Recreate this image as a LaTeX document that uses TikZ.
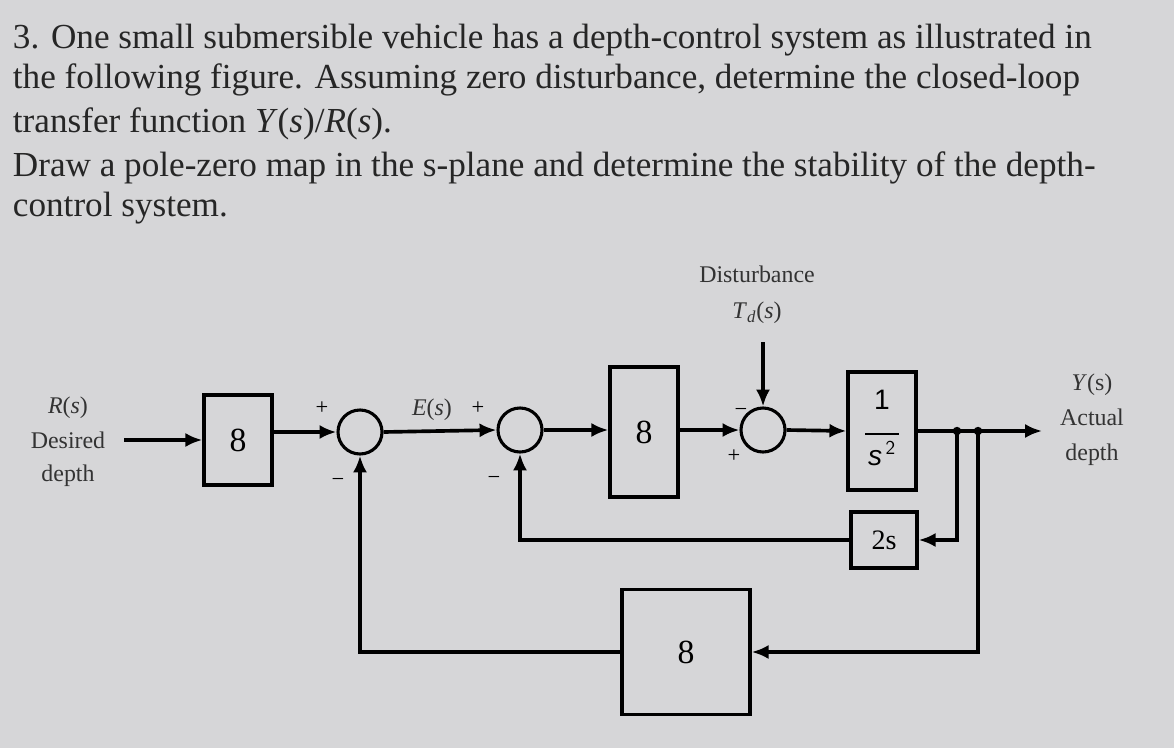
\documentclass[tikz,border=0pt]{standalone}
\usepackage{fontspec}
\setmainfont{Liberation Serif}
\newfontfamily\sff{Liberation Sans}
\usetikzlibrary{arrows.meta}
\begin{document}
\begin{tikzpicture}[x=0.025cm,y=-0.025cm,
  ln/.style={line width=2.6pt},
  arr/.style={ln,-{Latex[length=12pt,width=10pt]}},
  blk/.style={draw,line width=2.4pt,inner sep=0pt},
  sum/.style={draw,circle,line width=2.2pt,minimum size=44*0.025cm,inner sep=0pt},
  lbl/.style={font=\fontsize{17}{19}\selectfont,text=black!80},
  q/.style={anchor=west,font=\fontsize{25}{28}\selectfont,text=black!85},
  sg/.style={font=\fontsize{16}{16}\selectfont}]
\definecolor{bgc}{RGB}{214,214,216}
\fill[bgc] (0,0) rectangle (1174,748);
\useasboundingbox (0,0) rectangle (1174,748);
% question text
\node[q] (q1) at (8,40) {3. One small submersible vehicle has a depth-control system as illustrated in};
\node[q] (q2) at (8,80) {the following figure. Assuming zero disturbance, determine the closed-loop};
\node[q] (q3) at (8,124) {transfer function \textit{Y}(\textit{s})/\textit{R}(\textit{s}).};
\node[q] (q4) at (8,168) {Draw a pole-zero map in the s-plane and determine the stability of the depth-};
\node[q] (q5) at (8,208) {control system.};
% blocks
\node[blk,minimum width=68*0.025cm,minimum height=90*0.025cm,font=\fontsize{24}{24}\selectfont] (b1) at (238,440) {8};
\node[sum] (s1) at (360,432) {};
\node[sum] (s2) at (520,430) {};
\node[blk,minimum width=68*0.025cm,minimum height=130*0.025cm,font=\fontsize{24}{24}\selectfont] (b2) at (644,432) {8};
\node[sum] (s3) at (763,430) {};
\node[blk,minimum width=68*0.025cm,minimum height=118*0.025cm,font=\sff\fontsize{20}{22}\selectfont] (g) at (882,431) {\begin{tabular}{@{}c@{}}1\\[-4pt]\rule{24pt}{1.2pt}\\[-2pt]\textit{s}$^{\,\mathsf{2}}$\end{tabular}};
\node[blk,minimum width=66*0.025cm,minimum height=56*0.025cm,font=\fontsize{20}{20}\selectfont] (h) at (884,540) {2s};
\node[blk,minimum width=128*0.025cm,minimum height=125*0.025cm,font=\fontsize{24}{24}\selectfont] (k) at (686,652) {8};
\coordinate (d1) at (957,431);
\coordinate (d2) at (978,431);
\coordinate (out) at (1042,431);
\coordinate (din) at (763,342);
\coordinate (rin) at (124,440);
% labels
\node[lbl] (rs) at (68,408) {\textit{R}(\textit{s})};
\node[lbl] (rd) at (68,440) {Desired};
\node[lbl] (rdp) at (68,476) {depth};
\node[lbl] (ys) at (1092,385) {\textit{Y}(s)};
\node[lbl] (ya) at (1092,417) {Actual};
\node[lbl] (yd) at (1092,455) {depth};
\node[lbl] (dist) at (757,274) {Disturbance};
\node[lbl] (td) at (757,313) {\textit{T}\textsubscript{\textit{d}}(\textit{s})};
\node[lbl] (es) at (432,410) {\textit{E}(\textit{s})};
\node[sg] (p1) at (322,408) {+};
\node[sg] (m1) at (338,482) {\textminus};
\node[sg] (p2) at (478,408) {+};
\node[sg] (m2) at (494,480) {\textminus};
\node[sg] (m3) at (741,412) {\textminus};
\node[sg] (p3) at (734,456) {+};
% connectors
\draw[arr] (rin) -- (b1.west);
\draw[arr] (b1.east |- s1) -- (s1.west);
\draw[arr] (s1.east) -- (s2.west);
\draw[arr] (s2.east) -- (b2.west |- s2);
\draw[arr] (b2.east |- s3) -- (s3.west);
\draw[arr] (din) -- (s3.north);
\draw[arr] (s3.east) -- (g.west);
\draw[arr] (g.east) -- (out);
\fill (d1) circle (3pt) (d2) circle (3pt);
\draw[arr] (d1) |- (h.east);
\draw[arr] (h.west) -| (s2.south);
\draw[arr] (d2) |- (k.east);
\draw[arr] (k.west) -| (s1.south);
\end{tikzpicture}
\end{document}
